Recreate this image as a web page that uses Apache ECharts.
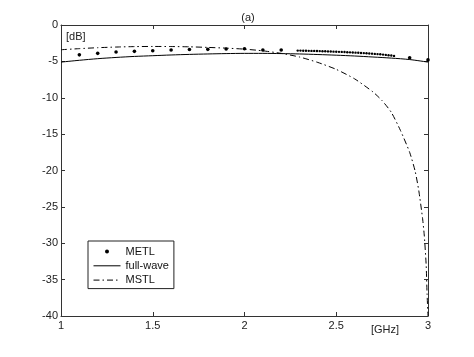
<!DOCTYPE html>
<html><head><meta charset="utf-8">
<script src="https://cdn.jsdelivr.net/npm/echarts@6/dist/echarts.min.js"></script>
<style>html,body{margin:0;padding:0;background:#fff}#c{width:474px;height:357px}</style>
</head><body><div id="c"></div>
<script>
// METL (measured points): frequency [GHz], |S21| [dB]
var metlFreq = [1.1,1.2,1.3,1.4,1.5,1.6,1.7,1.8,1.9,2.0,2.1,2.2,
  2.290,2.305,2.320,2.335,2.350,2.365,2.380,2.395,2.410,2.425,2.440,2.455,2.470,2.485,2.500,2.515,2.530,2.545,
  2.560,2.575,2.590,2.605,2.620,2.635,2.650,2.665,2.680,2.695,2.710,2.725,2.740,2.755,2.770,2.785,2.800,2.815,
  2.90,3.0];
var metlDb = [-4.1,-3.9,-3.71,-3.62,-3.53,-3.44,-3.37,-3.35,-3.3,-3.26,-3.44,-3.44,
  -3.52,-3.52,-3.53,-3.54,-3.55,-3.56,-3.56,-3.58,-3.59,-3.60,-3.61,-3.63,-3.64,-3.66,-3.67,-3.69,-3.70,-3.72,
  -3.74,-3.76,-3.78,-3.80,-3.82,-3.84,-3.86,-3.89,-3.91,-3.94,-3.97,-4.00,-4.03,-4.07,-4.11,-4.16,-4.2,-4.25,
  -4.5,-4.8];
// full-wave simulation
var fwFreq = [1.0,1.1,1.2,1.3,1.4,1.5,1.6,1.7,1.8,1.9,2.0,2.1,2.2,2.3,2.4,2.5,2.6,2.7,2.8,2.9,3.0];
var fwDb = [-5.1,-4.85,-4.63,-4.46,-4.32,-4.22,-4.12,-4.04,-3.98,-3.93,-3.9,-3.9,-3.93,-3.98,-4.06,-4.15,-4.26,-4.4,-4.55,-4.75,-5.1];
// MSTL model
var mstlFreq = [1.0,1.1,1.2,1.3,1.4,1.5,1.6,1.7,1.8,1.9,2.0,2.1,2.2,2.3,2.4,2.5,2.6,2.7,2.75,2.8,2.85,2.9,2.93,2.95,2.97,2.98,2.99,2.995,3.0];
var mstlDb = [-3.4,-3.25,-3.12,-3.03,-2.97,-2.95,-2.96,-3.0,-3.08,-3.18,-3.32,-3.55,-3.9,-4.4,-5.15,-6.1,-7.4,-9.2,-10.4,-12.0,-14.5,-17.5,-20.1,-22.8,-26.5,-29.0,-33.0,-37.0,-40.0];
var xTicks = [1, 1.5, 2, 2.5, 3];
var yTicks = [0, -5, -10, -15, -20, -25, -30, -35, -40];

function pairs(a, b) { return a.map(function (v, i) { return [v, b[i]]; }); }

var axisCol = '#333';
var font = 'Liberation Sans, Arial, sans-serif';
var chart = echarts.init(document.getElementById('c'), null, {renderer: 'canvas'});
chart.setOption({
  animation: false,
  backgroundColor: '#fff',
  title: {text: '(a)', left: 243, top: 7, textAlign: 'center',
    textStyle: {fontSize: 11, fontWeight: 'normal', color: '#222', fontFamily: font}},
  grid: {left: 61, right: 46, top: 25, bottom: 41},
  xAxis: [
    {type: 'value', min: 1, max: 3, interval: 0.5, position: 'bottom',
     axisLine: {onZero: false, lineStyle: {color: axisCol, width: 1}},
     axisTick: {inside: true, length: 4, lineStyle: {color: axisCol}},
     axisLabel: {color: '#222', fontSize: 11, fontFamily: font, margin: 4,
       formatter: function (v) { return xTicks.indexOf(v) >= 0 ? String(v) : ''; }},
     splitLine: {show: false}},
    {type: 'value', min: 1, max: 3, interval: 0.5, position: 'top',
     axisLine: {onZero: false, lineStyle: {color: axisCol, width: 1}},
     axisTick: {inside: true, length: 4, lineStyle: {color: axisCol}},
     axisLabel: {show: false}, splitLine: {show: false}}
  ],
  yAxis: [
    {type: 'value', min: -40, max: 0, interval: 5, position: 'left',
     axisLine: {show: true, onZero: false, lineStyle: {color: axisCol, width: 1}},
     axisTick: {show: true, inside: true, length: 4, lineStyle: {color: axisCol}},
     axisLabel: {color: '#222', fontSize: 11, fontFamily: font, margin: 3,
       formatter: function (v) { return yTicks.indexOf(v) >= 0 ? String(v) : ''; }},
     splitLine: {show: false}},
    {type: 'value', min: -40, max: 0, interval: 5, position: 'right',
     axisLine: {show: true, onZero: false, lineStyle: {color: axisCol, width: 1}},
     axisTick: {show: true, inside: true, length: 4, lineStyle: {color: axisCol}},
     axisLabel: {show: false}, splitLine: {show: false}}
  ],
  legend: {
    orient: 'vertical', left: 88, top: 241,
    backgroundColor: '#fff', borderColor: '#222', borderWidth: 1,
    padding: [4, 5, 2, 5], itemWidth: 27, itemHeight: 5, itemGap: 1.3,
    textStyle: {color: '#111', fontSize: 11, fontFamily: font, lineHeight: 13},
    data: [
      {name: 'METL'},
      {name: 'full-wave', itemStyle: {opacity: 0}, lineStyle: {width: 1}},
      {name: 'MSTL', itemStyle: {opacity: 0}, lineStyle: {width: 1}}
    ]
  },
  graphic: [
    {type: 'text', left: 66, top: 31, style: {text: '[dB]', fontSize: 11, fontFamily: font, fill: '#222'}},
    {type: 'text', left: 371, top: 324, style: {text: '[GHz]', fontSize: 11, fontFamily: font, fill: '#222'}}
  ],
  series: [
    {name: 'METL', type: 'line', data: pairs(metlFreq, metlDb),
     symbol: 'circle', showSymbol: true,
     symbolSize: function (v) { return (v[0] > 2.25 && v[0] < 2.85) ? 2.4 : 3.6; },
     lineStyle: {width: 0, opacity: 0}, itemStyle: {color: '#000'}, z: 3},
    {name: 'full-wave', type: 'line', data: pairs(fwFreq, fwDb), smooth: 0.3,
     symbol: 'none', lineStyle: {color: '#000', width: 1}, itemStyle: {color: '#000'}},
    {name: 'MSTL', type: 'line', data: pairs(mstlFreq, mstlDb), smooth: 0.2,
     symbol: 'none', lineStyle: {color: '#000', width: 1, type: [6, 3, 1.5, 3]}, itemStyle: {color: '#000'}}
  ]
});
</script></body></html>
